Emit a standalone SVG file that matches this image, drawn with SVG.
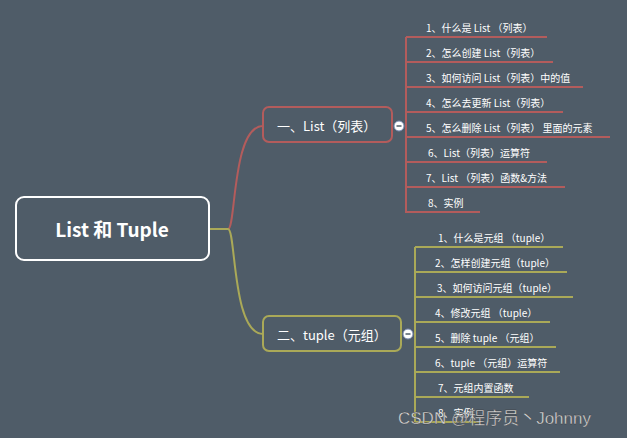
<svg xmlns="http://www.w3.org/2000/svg" width="627" height="438" viewBox="0 0 627 438">
<style>
text{font-family:"Noto Sans CJK SC","Liberation Sans",sans-serif;fill:#fff}
.it{font-size:10px}
.r{stroke:#b35c5c;fill:none;stroke-width:2}
.y{stroke:#aaa958;fill:none;stroke-width:2}
</style>
<rect width="627" height="438" fill="#4f5c68"/>
<g id="connectors">
<path class="r" d="M209 229 H228 C236 229 232 126 263 126"/>
<path class="y" d="M209 229 H228 C236 229 232 334 263 334"/>
<path class="r" d="M406 37 V213 M406 37 H547 M406 62 H553 M406 87 H583 M406 112 H563 M406 137 H610 M406 162 H547 M406 187 H565 M406 212 H480"/>
<path class="y" d="M415 247 V422 M415 247 H563 M415 272 H567 M415 297 H573 M415 322 H550 M415 347 H556 M415 372 H560 M415 397 H529 M415 422 H480"/>
</g>
<g id="root"><rect x="16" y="197" width="193" height="63" rx="8" fill="#4f5c68" stroke="#fff" stroke-width="2"/><text x="112" y="237" text-anchor="middle" font-size="19" font-weight="bold">List 和 Tuple</text></g>
<g id="list"><rect x="263" y="107" width="129" height="35" rx="6" fill="#4f5c68" stroke="#b35c5c" stroke-width="2"/><text x="277" y="131" font-size="13">一、List（列表）</text>
<circle cx="399" cy="126" r="5" fill="#fff" stroke="#7b8ab0"/><path d="M396.5 126H401.5" stroke="#4f5c68" stroke-width="1.5"/></g>
<g id="tuple"><rect x="263" y="316" width="138" height="35" rx="6" fill="#4f5c68" stroke="#aaa958" stroke-width="2"/><text x="277" y="340" font-size="13">二、tuple（元组）</text>
<circle cx="408" cy="334" r="5" fill="#fff" stroke="#7b8ab0"/><path d="M405.5 334H410.5" stroke="#4f5c68" stroke-width="1.5"/></g>
<g id="list-items" class="it">
<text x="426" y="32">1、什么是 List （列表）</text>
<text x="426" y="57">2、怎么创建 List（列表）</text>
<text x="426" y="82">3、如何访问 List（列表）中的值</text>
<text x="426" y="107">4、怎么去更新 List（列表）</text>
<text x="426" y="132">5、怎么删除 List（列表） 里面的元素</text>
<text x="428" y="157">6、List（列表）运算符</text>
<text x="426" y="182">7、List （列表）函数&amp;方法</text>
<text x="428" y="207">8、实例</text>
</g>
<g id="tuple-items" class="it">
<text x="438" y="242">1、什么是元组 （tuple）</text>
<text x="435" y="267">2、怎样创建元组（tuple）</text>
<text x="437" y="292">3、如何访问元组（tuple）</text>
<text x="435" y="317">4、修改元组 （tuple）</text>
<text x="435" y="342">5、删除 tuple （元组）</text>
<text x="435" y="367">6、tuple （元组）运算符</text>
<text x="438" y="392">7、元组内置函数</text>
<text x="438" y="417">8、实例</text>
</g>
<text x="398" y="424" font-size="17" style="fill:#d8d8d8;font-family:'Liberation Sans','Noto Sans CJK SC',sans-serif" stroke="#333" stroke-width="0.3">CSDN @程序员丶Johnny</text>
</svg>
